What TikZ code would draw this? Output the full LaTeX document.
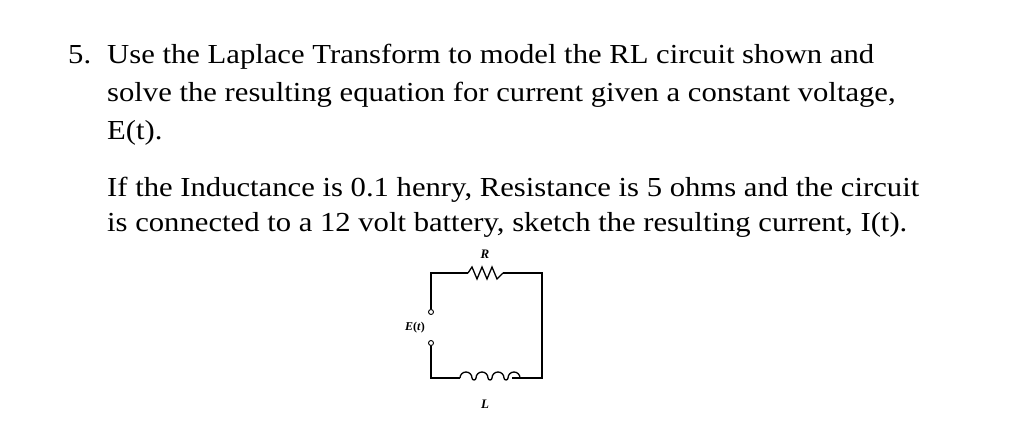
\documentclass[tikz,border=0pt]{standalone}
\usepackage{fontspec}
\setmainfont{Liberation Serif}
\newfontfamily\wideserif[FakeStretch=1.115]{Liberation Serif}
\begin{document}
\begin{tikzpicture}[x=1pt,y=-1pt,
  body/.style={anchor=base west,inner sep=0pt,font=\wideserif\fontsize{27.5}{30}\selectfont},
  lab/.style={inner sep=0pt,font=\fontsize{13}{15}\selectfont\itshape\bfseries},
  wire/.style={line width=1.3pt},
  term/.style={circle,draw,line width=0.9pt,minimum size=5pt,inner sep=0pt}]
\useasboundingbox (0,0) rectangle (1024,422);
\node[body] (n5) at (68,64) {5.};
\node[body] (l1) at (107,64) {Use the Laplace Transform to model the RL circuit shown and};
\node[body] (l2) at (107,102) {solve the resulting equation for current given a constant voltage,};
\node[body] (l3) at (107,140) {E(t).};
\node[body] (l4) at (107,196) {If the Inductance is 0.1 henry, Resistance is 5 ohms and the circuit};
\node[body] (l5) at (107,231) {is connected to a 12 volt battery, sketch the resulting current, I(t).};
% circuit
\coordinate (tl) at (431,273);
\coordinate (tr) at (542,273);
\coordinate (br) at (542,378);
\coordinate (bl) at (431,378);
\node[term] (ta) at (431,312) {};
\node[term] (tb) at (431,343) {};
\coordinate (ra) at (468,273);
\coordinate (rb) at (503,273);
\coordinate (la) at (460,378);
\coordinate (lb) at (512,378);
\draw[wire] (ta) -- (tl) -- (ra);
\draw[wire] (ra) -- ++(4,-6) -- ++(5,12) -- ++(5,-12) -- ++(5,12) -- ++(5,-12) -- ++(5,12) -- (rb);
\draw[wire] (rb) -- (tr) -- (br) -- (lb);
\draw[wire] (la) arc[start angle=180,end angle=360,radius=6]
  arc[start angle=180,end angle=0,radius=2]
  arc[start angle=180,end angle=360,radius=6]
  arc[start angle=180,end angle=0,radius=2]
  arc[start angle=180,end angle=360,radius=6]
  arc[start angle=180,end angle=0,radius=2]
  arc[start angle=180,end angle=360,radius=6] -- (lb);
\draw[wire] (tb) -- (bl) -- (la);
\node[lab] (R) at (485,254) {R};
\node[lab] (L) at (485,404) {L};
\node[lab,font=\fontsize{12}{14}\selectfont\bfseries] (E) at (415,328) {\textit{E}(\textit{t})};
\end{tikzpicture}
\end{document}
